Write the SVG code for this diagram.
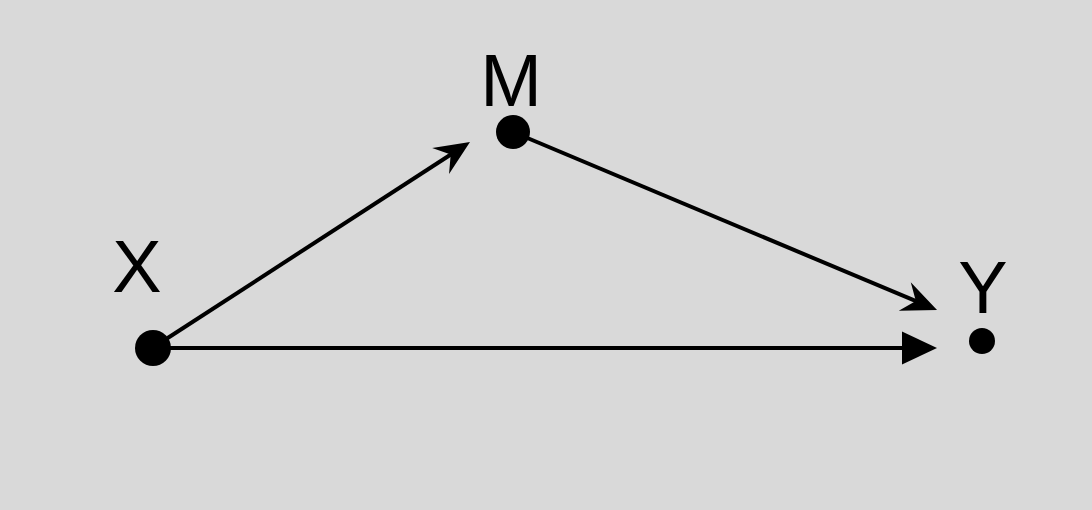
<svg xmlns="http://www.w3.org/2000/svg" width="1092" height="510" viewBox="0 0 1092 510">
<style>
.lbl{font-family:"Liberation Sans",Arial,sans-serif;font-size:74px;fill:#000;text-anchor:middle}
.edge{stroke:#000;stroke-width:4;fill:none}
.dot{fill:#000}
</style>
<defs>
<marker id="stealth" markerUnits="userSpaceOnUse" viewBox="-40 -20 44 40" refX="-15" refY="0" markerWidth="44" markerHeight="40" orient="auto">
<path d="M0,0 L-35,-15.5 L-23,0 L-35,15.5 Z" fill="#000"/>
</marker>
<marker id="tri" markerUnits="userSpaceOnUse" viewBox="-40 -20 44 40" refX="-15" refY="0" markerWidth="44" markerHeight="40" orient="auto">
<path d="M0,0 L-35,-16.5 L-35,16.5 Z" fill="#000"/>
</marker>
</defs>
<rect width="1092" height="510" fill="#d9d9d9"/>
<g id="edges">
<line class="edge" x1="160" y1="343" x2="457.4" y2="150.2" marker-end="url(#stealth)"/>
<line class="edge" x1="525" y1="137" x2="923.2" y2="304.2" marker-end="url(#stealth)"/>
<line class="edge" x1="165" y1="348" x2="922" y2="348" marker-end="url(#tri)"/>
</g>
<g id="node-X">
<circle class="dot" cx="153" cy="348" r="18"/>
<text class="lbl" x="137" y="292">X</text>
</g>
<g id="node-M">
<circle class="dot" cx="513" cy="132" r="17"/>
<text class="lbl" x="511" y="106">M</text>
</g>
<g id="node-Y">
<circle class="dot" cx="982" cy="341" r="13"/>
<text class="lbl" x="983" y="313">Y</text>
</g>
</svg>
